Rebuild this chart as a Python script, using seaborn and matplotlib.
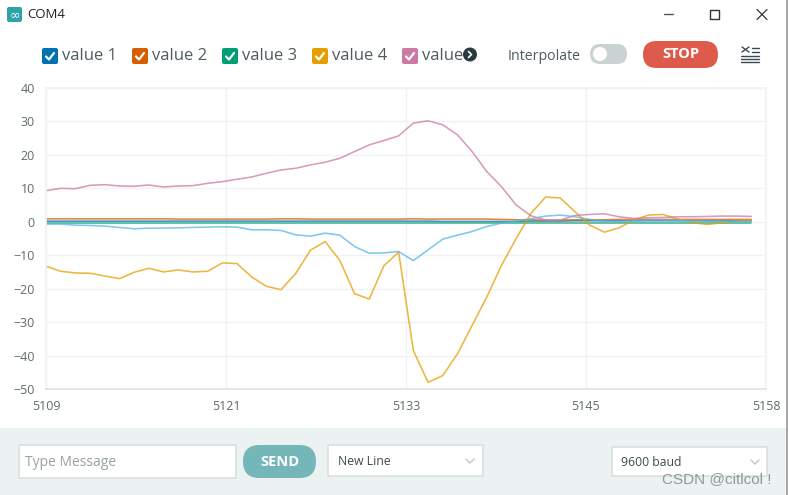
# Serial plotter window rebuilt with seaborn
import pandas as pd
import matplotlib
matplotlib.use('Agg')
import matplotlib.pyplot as plt
from matplotlib.patches import FancyBboxPatch, Rectangle, Circle
import seaborn as sns

# Data
samples = list(range(5109, 5158))
value_1 = [0.2, 0.2, 0.2, 0.2, 0.2, 0.2, 0.2, 0.2, 0.2, 0.2, 0.2, 0.2, 0.2, 0.2, 0.2, 0.2, 0.2,
           0.2, 0.2, 0.2, 0.2, 0.2, 0.2, 0.2, 0.2, 0.2, 0.2, 0.1, 0.1, 0.1, 0.1, 0.1, 0.1, 0.2,
           0.2, 0.2, 0.3, 0.3, 0.3, 0.3, 0.3, 0.3, 0.3, 0.3, 0.3, 0.3, 0.3, 0.3, 0.3]
value_2 = [0.9, 0.9, 0.9, 0.9, 0.9, 0.9, 0.9, 0.9, 0.9, 0.8, 0.8, 0.8, 0.8, 0.8, 0.8, 0.8, 0.9,
           0.9, 0.8, 0.8, 0.8, 0.8, 0.8, 0.8, 0.8, 0.9, 0.8, 0.8, 0.8, 0.8, 0.8, 0.7, 0.6, 0.6,
           0.5, 0.5, 0.6, 0.6, 0.6, 0.7, 0.7, 0.7, 0.7, 0.7, 0.7, 0.7, 0.7, 0.7, 0.7]
value_3 = [-0.3, -0.3, -0.3, -0.3, -0.3, -0.3, -0.3, -0.3, -0.3, -0.3, -0.3, -0.3, -0.3, -0.3, -0.3,
           -0.3, -0.3, -0.3, -0.3, -0.3, -0.3, -0.3, -0.3, -0.3, -0.3, -0.3, -0.3, -0.3, -0.3, -0.3,
           -0.3, -0.3, -0.3, -0.3, -0.3, -0.3, -0.3, -0.3, -0.3, -0.3, -0.3, -0.3, -0.3, -0.3, -0.3,
           -0.3, -0.3, -0.3, -0.3]
value_4 = [-13.3, -14.8, -15.3, -15.4, -16.2, -17.0, -15.1, -13.9, -15.0, -14.4, -15.0, -14.8, -12.3,
           -12.5, -16.5, -19.3, -20.3, -15.4, -8.5, -5.9, -11.6, -21.5, -23.1, -13.1, -9.1, -38.5,
           -48.0, -46.0, -39.5, -31.0, -22.5, -13.0, -5.0, 2.5, 7.4, 7.1, 3.0, -1.0, -3.1, -1.8,
           0.5, 2.0, 2.2, 0.8, -0.2, -0.8, -0.3, 0.3, 0.5]
value_5 = [9.3, 10.0, 9.9, 10.9, 11.1, 10.7, 10.6, 11.0, 10.4, 10.7, 10.8, 11.5, 12.0, 12.7, 13.4,
           14.5, 15.5, 16.0, 17.0, 17.8, 19.0, 21.0, 23.0, 24.3, 25.7, 29.5, 30.2, 29.0, 26.0, 21.0,
           15.0, 10.5, 5.0, 1.8, 0.5, 0.5, 1.9, 2.2, 2.4, 1.5, 1.0, 1.2, 1.3, 1.5, 1.5, 1.6, 1.7,
           1.7, 1.6]
value_6 = [-0.7, -0.7, -1.0, -1.1, -1.3, -1.7, -2.1, -1.9, -1.9, -1.8, -1.7, -1.6, -1.5, -1.6, -2.4,
           -2.4, -2.6, -3.9, -4.3, -3.4, -4.0, -7.4, -9.4, -9.3, -8.9, -11.6, -8.4, -5.2, -4.0, -2.9,
           -1.4, -0.4, 0.2, 0.9, 1.7, 2.0, 1.5, 0.7, 0.2, 0.1, 0.3, 0.5, 0.5, 0.4, 0.3, 0.2, 0.2,
           0.1, 0.1]

series_names = ['value 1', 'value 2', 'value 3', 'value 4', 'value 5', 'value 6']
series_colors = ['#0072B2', '#D55E00', '#009E73', '#E69F00', '#CC79A7', '#56B4E9']
x_ticks = [5109, 5121.25, 5133.5, 5145.75, 5158]
x_labels = ['5109', '5121', '5133', '5145', '5158']
y_ticks = [-50, -40, -30, -20, -10, 0, 10, 20, 30, 40]

W, H = 788, 495
GRID = '#F0F3F3'
TEXT = '#4E5B61'

df = pd.DataFrame({'sample': samples, 'value 1': value_1, 'value 2': value_2, 'value 3': value_3,
                   'value 4': value_4, 'value 5': value_5, 'value 6': value_6})
long_df = df.melt(id_vars='sample', var_name='series', value_name='reading')

sns.set_theme(style='white')
plt.rcParams['font.family'] = ['Open Sans', 'DejaVu Sans']

fig = plt.figure(figsize=(W / 100, H / 100), dpi=100, facecolor='white')

# the plot itself, placed by pixel box
ax = fig.add_axes([46 / W, 1 - 389 / H, 720 / W, 301 / H])
sns.lineplot(data=long_df, x='sample', y='reading', hue='series', hue_order=series_names,
             palette=series_colors, estimator=None, errorbar=None, linewidth=1.15, alpha=0.75,
             legend=False, ax=ax)
ax.set_xlim(5109, 5158)
ax.set_ylim(-50, 40)
ax.set_xticks(x_ticks)
ax.set_xticklabels(x_labels)
ax.set_yticks(y_ticks)
ax.set_xlabel('')
ax.set_ylabel('')
ax.grid(True, color=GRID, linewidth=1)
ax.set_axisbelow(True)
ax.tick_params(axis='both', length=6, width=1, color=GRID, labelsize=9, labelcolor='#5F6B70', pad=2)
for side in ['top', 'right', 'left']:
    ax.spines[side].set_color(GRID)
ax.spines['bottom'].set_color('#DDE3E3')
ax.spines['bottom'].set_linewidth(1.2)

# window chrome, in pixel coordinates
ui = fig.add_axes([0, 0, 1, 1], facecolor='none')
ui.set_xlim(0, W)
ui.set_ylim(H, 0)
ui.axis('off')


def rounded(x, y, w, h, r, color, edge='none', lw=1):
    ui.add_patch(FancyBboxPatch((x + r, y + r), w - 2 * r, h - 2 * r, boxstyle=f'round,pad={r}',
                                facecolor=color, edgecolor=edge, linewidth=lw, mutation_aspect=1))


def checkbox(x, y, color):
    rounded(x, y, 16, 16, 2, color)
    ui.plot([x + 4, x + 7, x + 12], [y + 8.5, y + 11.5, y + 5], color='white', lw=1.6)


def chevron(x, y):
    ui.plot([x - 4, x, x + 4], [y - 2, y + 2, y - 2], color='#C3CBCB', lw=1.1)


# title bar
rounded(7, 7, 15, 15, 2, '#2FA3A8')
ui.text(14.5, 14.5, '∞', color='white', fontsize=9, ha='center', va='center', family='DejaVu Sans')
ui.text(27, 15, 'COM4', color='#222222', fontsize=9.5, va='center')
ui.plot([664, 673], [14, 14], color='#555555', lw=1)
ui.add_patch(Rectangle((710.5, 9.5), 9, 9, facecolor='none', edgecolor='#333333', lw=1))
ui.plot([757, 767], [9.5, 19.5], color='#333333', lw=0.9)
ui.plot([757, 767], [19.5, 9.5], color='#333333', lw=0.9)

# legend row
for name, color, bx in zip(series_names[:4], series_colors[:4], [42, 132, 222, 312]):
    checkbox(bx, 48, color)
    ui.text(bx + 20.5, 56.5, name, color=TEXT, fontsize=12, va='center')
checkbox(402, 48, series_colors[4])
ui.text(422.5, 56.5, 'value', color=TEXT, fontsize=12, va='center')
ui.add_patch(Rectangle((452, 44), 12, 22, facecolor='white', alpha=0.5, edgecolor='none'))
ui.add_patch(Circle((470, 54.5), 7, facecolor='#2A3A3E', edgecolor='none'))
ui.plot([468.5, 471.5, 468.5], [51.5, 54.5, 57.5], color='white', lw=1.2)
ui.text(507.5, 56, 'Interpolate', color=TEXT, fontsize=10.2, va='center')
rounded(590, 44, 37, 20, 10, '#C9D3D2')
ui.add_patch(Circle((600, 54), 7, facecolor='white', edgecolor='none'))
rounded(643, 41, 75, 27, 13.5, '#DE5B4B')
ui.text(680.5, 54.5, 'STOP', color='white', fontsize=10.5, weight='bold', ha='center', va='center')
ui.plot([742, 749], [47, 52], color='#3A4A50', lw=1)
ui.plot([742, 749], [52, 47], color='#3A4A50', lw=1)
ui.plot([752, 759], [47.5, 47.5], color='#3A4A50', lw=1)
ui.plot([752, 759], [51.5, 51.5], color='#3A4A50', lw=1)
for line_y in [56, 59, 62]:
    ui.plot([741.5, 759.5], [line_y, line_y], color='#3A4A50', lw=1)

# bottom bar
ui.add_patch(Rectangle((0, 428), W, 67, facecolor='#ECF1F1', edgecolor='none'))
rounded(19, 445, 217, 33, 1, 'white', edge='#D5DBDB')
ui.text(25.5, 463, 'Type Message', color='#98A1A3', fontsize=10, va='center')
rounded(243, 445, 73, 33, 16.5, '#75B7B9')
ui.text(279.5, 462, 'SEND', color='white', fontsize=10.5, weight='bold', ha='center', va='center')
rounded(328, 445, 155, 31, 1, 'white', edge='#D5DBDB')
ui.text(338, 461.5, 'New Line', color='#3D4A4F', fontsize=8.8, va='center')
chevron(470, 461)
rounded(612, 447, 155, 29, 1, 'white', edge='#D5DBDB')
ui.text(621, 463, '9600 baud', color='#3D4A4F', fontsize=8.8, va='center')
chevron(755, 462)
ui.text(662, 479.5, 'CSDN @citlcol !', color='#929799', fontsize=11, va='center', family='Liberation Sans')

# right edge of the screenshot
ui.add_patch(Rectangle((786.5, 0), 1.5, H, facecolor='#A9A9A9', edgecolor='none'))

fig.savefig('out.png', dpi=100)
